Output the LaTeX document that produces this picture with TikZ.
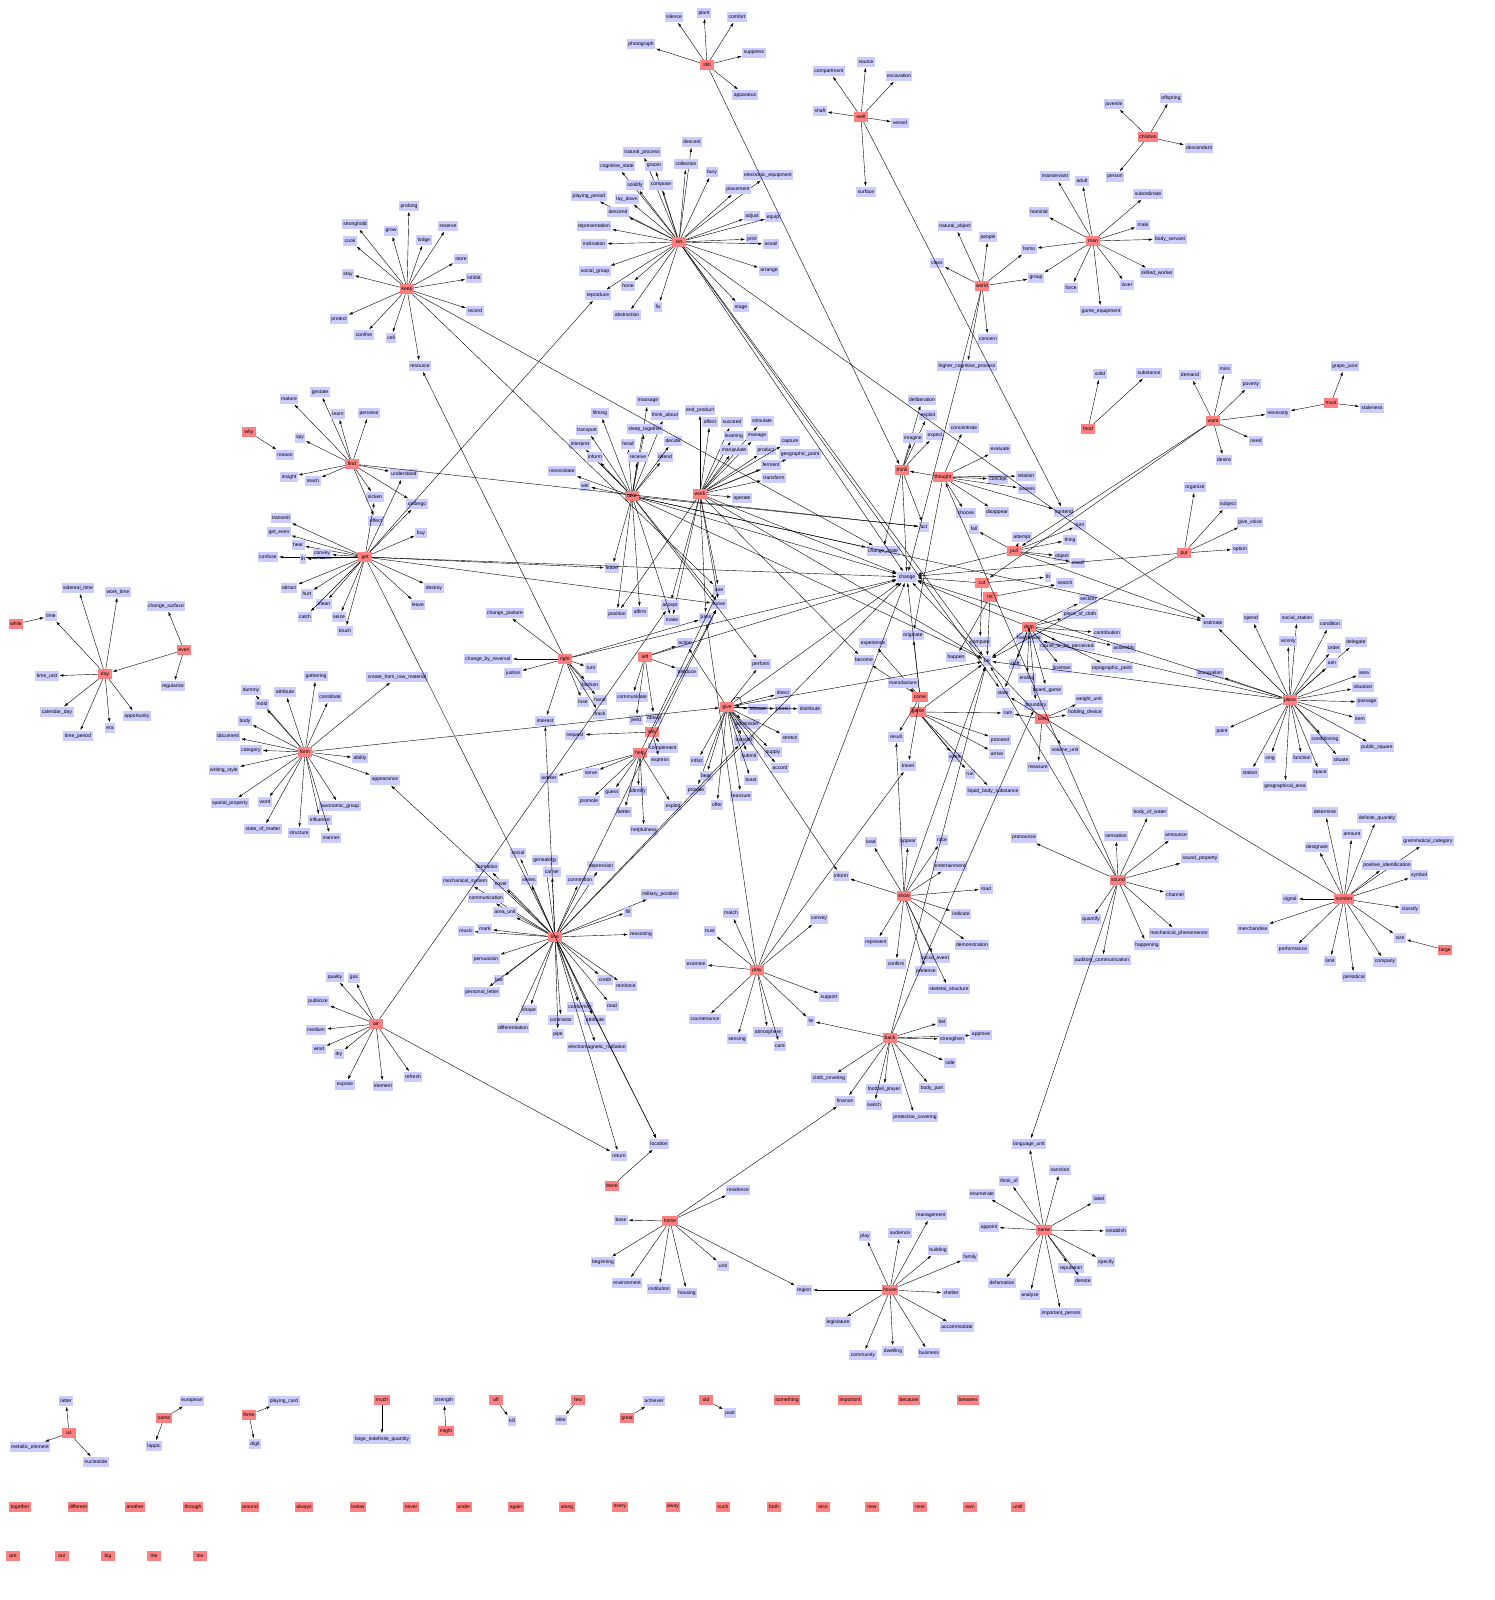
\documentclass[tikz,border=0pt]{standalone}
\usepackage{fontspec}
\setmainfont{Liberation Sans}
\usetikzlibrary{arrows.meta}
\tikzset{
 hubn/.style={fill={rgb,255:red,255;green,128;blue,128},inner sep=1.5pt,minimum height=10pt,minimum width=14pt,font=\fontsize{5}{6}\selectfont},
 leafn/.style={fill={rgb,255:red,204;green,204;blue,255},inner sep=1.5pt,minimum height=10pt,font=\fontsize{5}{6}\selectfont},
 arr/.style={-{Latex[length=4pt,width=2.6pt]},line width=0.4pt,shorten >=0.5pt}
}
\newcommand\hub[4]{\node[hubn] (#1) at (#2,#3) {#4};}
\newcommand\lv[2]{\foreach \n/\x/\y in {#2}{\node[leafn] (#1-\n) at (\x,\y) {\expandafter\detokenize\expandafter{\n}}; \draw[arr] (#1) -- (#1-\n);}}
\begin{document}
\begin{tikzpicture}[x=1pt,y=-1pt]
\useasboundingbox[fill=white] (0,0) rectangle (1494,1600);
% hubs
\hub{still}{707}{65}{still}
\hub{well}{861}{117}{well}
\hub{children}{1148}{137}{children}
\hub{man}{1093}{241}{man}
\hub{world}{982}{286}{world}
\hub{set}{679}{242}{set}
\hub{keep}{407}{289}{keep}
\hub{food}{1088}{429}{food}
\hub{want}{1213}{421}{want}
\hub{must}{1331}{403}{must}
\hub{why}{249}{432}{why}
\hub{find}{352}{464}{find}
\hub{get}{365}{557}{get}
\hub{day}{105}{674}{day}
\hub{while}{16}{624}{while}
\hub{even}{184}{650}{even}
\hub{take}{632}{496}{take}
\hub{work}{700}{494}{work}
\hub{think}{902}{470}{think}
\hub{thought}{943}{477}{thought}
\hub{pull}{1014}{551}{pull}
\hub{cut}{982}{583}{cut}
\hub{hit}{990}{597}{hit}
\hub{drop}{1029}{627}{drop}
\hub{come}{920}{697}{come}
\hub{game}{918}{712}{game}
\hub{last}{1042}{719}{last}
\hub{put}{1184}{553}{put}
\hub{place}{1290}{700}{place}
\hub{form}{305}{752}{form}
\hub{right}{565}{659}{right}
\hub{left}{645}{657}{left}
\hub{give}{727}{707}{give}
\hub{ask}{652}{732}{ask}
\hub{help}{640}{753}{help}
\hub{line}{555}{937}{line}
\hub{air}{376}{1024}{air}
\hub{play}{757}{970}{play}
\hub{show}{904}{896}{show}
\hub{back}{890}{1038}{back}
\hub{sound}{1118}{880}{sound}
\hub{number}{1344}{899}{number}
\hub{large}{1445}{950}{large}
\hub{home}{670}{1221}{home}
\hub{house}{890}{1290}{house}
\hub{name}{1044}{1230}{name}
\hub{there}{612}{1186}{there}
% leaves
\lv{still}{silence/674/17,plant/704/13,comfort/737/17,photograph/641/44,suppress/754/53,apparatus/745/95}
\lv{well}{source/866/62,compartment/829/71,excavation/899/76,shaft/820/111,vessel/900/123,surface/866/192}
\lv{children}{juvenile/1114/104,offspring/1171/98,descendant/1199/148,person/1115/177}
\lv{man}{manservant/1055/176,adult/1082/181,subordinate/1148/194,hominid/1039/212,male/1143/225,body_servant/1170/239,homo/1029/249,group/1036/278,skilled_worker/1157/273,force/1071/288,lover/1127/285,game_equipment/1101/311}
\lv{world}{natural_object/955/226,people/988/237,class/937/263,concern/988/339,higher_cognitive_process/967/366}
\draw[arr] (world) -- (man-homo); \draw[arr] (world) -- (man-group);
\lv{set}{descent/692/142,natural_process/642/152,collection/686/164,bury/712/172,cognitive_state/617/166,groom/654/166,electronic_equipment/768/175,solidify/635/185,compose/661/185,placement/738/189,playing_period/589/196,lay_down/627/199,descend/618/212,adjust/752/216,equip/773/217,representation/594/226,inclination/594/244,print/752/239,assail/771/244,social_group/595/271,arrange/769/271,hone/628/286,reproduce/598/295,fix/658/307,abstraction/627/315,stage/741/307}
\lv{keep}{prolong/409/206,stronghold/355/224,grow/391/231,lodge/424/240,reserve/448/226,cook/350/241,store/461/259,stay/348/274,inhibit/474/278,record/475/311,protect/339/319,confine/364/335,cell/391/338,resource/420/366}
\lv{food}{solid/1100/374,substance/1149/373}
\lv{want}{demand/1190/375,miss/1225/369,poverty/1251/384,necessity/1278/413,need/1256/441,desire/1224/460}
\lv{must}{grape_juice/1345/366,staleness/1372/408}
\draw[arr] (must) -- (want-necessity);
\lv{why}{reason/285/455}
\lv{find}{gestate/320/392,mature/289/399,learn/338/414,perceive/369/413,spy/300/438,insight/289/477,reach/313/481,understand/404/474,sicken/375/497,effect/376/521,undergo/417/504}
\lv{get}{transmit/281/518,get_even/279/532,hear/298/545,convey/322/554,confuse/268/557,fit/303/559,attract/289/588,hurt/307/594,mean/324/604,catch/305/617,seize/339/617,touch/345/631,buy/421/533,destroy/434/588,leave/418/605}
\draw[arr] (get) -- (find-understand); \draw[arr] (get) -- (find-undergo); \draw[arr] (get) -- (find-sicken);
\lv{day}{sidereal_time/78/588,work_time/118/592,time/51/616,time_unit/47/676,calendar_day/57/712,time_period/78/736,era/110/728,opportunity/137/716}
\draw[arr] (while) -- (day-time);
\lv{even}{change_surface/166/606,regularize/173/686}
\draw[arr] (even) -- (day);
\lv{take}{massage/648/401,filming/600/413,transport/587/430,think_about/665/415,sleep_together/645/429,interpret/580/444,head/628/444,receive/638/457,inform/595/457,attend/665/457,decide/673/441,necessitate/562/471,win/585/486,leave/612/568,position/617/614,affirm/640/612}
\lv{work}{end_product/700/410,affect/710/422,succeed/732/422,stimulate/762/421,learning/734/436,manage/757/436,manipulate/734/450,product/766/450,capture/790/441,geographic_point/800/454,ferment/771/465,transform/774/478,operate/742/498,use/719/590,move/719/604,make/672/620,pass/706/618,accept/670/605}
\lv{think}{deliberation/922/400,exploit/928/415,imagine/913/438,expect/935/435,act/924/527,change_state/883/551,change/907/577}
\lv{thought}{concentrate/964/428,evaluate/1000/449,choose/966/513,disappear/997/512,concept/998/479,relation/1026/476,assess/1027/489,contend/1064/512}
\draw[arr] (thought) -- (think);
\lv{pull}{fall/974/529,attempt/1022/537,thing/1070/540,turn/1080/525,object/1062/556,crawl/1078/563}
\lv{cut}{fit/1048/577,compute/980/642}
\lv{hit}{search/1065/583,be/987/661,happen/956/657}
\lv{drop}{section/1088/599,piece_of_cloth/1080/614,contribution/1107/633,harmonize/1029/638,cause_to_be_perceived/1067/646,assembly/1124/648,shift/1015/664,ending/1027/678,board_game/1047/690,state/1003/693,boundary/1036/705,lineman/1062/668,topographic_point/1112/668}
\lv{come}{experience/873/643,originate/913/635,become/864/660,manufacture/903/683,result/896/737,travel/908/766}
\lv{game}{ram/1008/713,proceed/1000/740,arrive/997/754,exert/955/757,run/970/774,liquid_body_substance/993/791}
\lv{last}{measure/1038/767,volume_unit/1065/750,weight_unit/1089/699,holding_device/1085/712}
\draw[arr] (last) -- (game-ram);
\lv{put}{organize/1195/487,subject/1228/504,give_voice/1250/522,option/1240/549}
\lv{place}{social_station/1297/618,condition/1330/624,vicinity/1288/641,delegate/1356/642,order/1334/648,aim/1332/663,area/1364/673,situation/1363/687,passage/1367/702,item/1360/719,public_square/1377/747,conditioning/1325/739,situate/1341/760,point/1222/731,sing/1270/758,function/1302/758,space/1320/773,station/1250/773,geographical_area/1285/786,occupation/1210/673,spend/1251/618,estimate/1213/623}
\lv{form}{gathering/316/676,attribute/285/692,constitute/330/697,dummy/251/690,mold/262/704,body/245/721,document/228/736,category/251/750,ability/360/758,writing_style/224/770,appearance/385/780,spatial_property/230/803,word/265/802,taxonomic_group/340/806,influence/320/820,state_of_matter/263/829,structure/299/833,manner/331/838,create_from_raw_material/397/677}
\lv{right}{change_posture/505/613,change_by_reversal/488/659,justice/513/673,interest/545/721,turn/591/668,fashion/590/685,lose/583/702,hand/600/700,track/600/714}
\lv{left}{action/685/643,produce/687/672,communicate/632/697,yield/636/720,obtain/654/718}
\lv{give}{perform/761/664,direct/783/693,release/758/709,permit/783/709,distribute/810/709,administer/747/724,transfer/744/740,submit/749/756,supply/773/752,stretch/790/738,accord/780/768,toast/751/780,provide/696/790,offer/717/805,inflict/697/761,bear/706/776,reassure/741/796}
\lv{ask}{request/575/735,complement/663/748,express/660/761}
\lv{help}{worker/549/778,serve/591/773,promote/589/801,guess/612/793,identify/638/791,exploit/673/806,better/624/812,helpfulness/644/830}
\lv{line}{social/518/853,genealogy/545/860,carrier/552/872,depression/601/866,formation/487/867,series/529/880,connection/580/880,mechanical_system/465/881,cover/501/884,communication/486/898,military_position/660/894,area_unit/505/912,fill/628/912,music/466/931,mark/485/929,reasoning/641/934,persuasion/486/959,law/499/980,personal_letter/482/992,credit/605/980,reinforce/626/986,road/612/1006,shape/529/1010,conformity/580/1007,attribute/595/1020,contractor/561/1020,differentiation/513/1028,pipe/558/1034,electromagnetic_radiation/597/1047,return/619/1156,location/659/1144}
\draw[arr] (there) -- (line-location);
\lv{air}{quality/335/977,gas/354/978,publicize/318/1001,medium/316/1030,wind/319/1049,dry/339/1054,expose/345/1085,element/383/1086,refresh/413/1077}
\lv{play}{match/731/913,trust/710/931,examine/696/964,countenance/705/1019,sensing/737/1039,atmosphere/768/1032,care/780/1046,support/829/997,lie/811/1021,convey/819/919}
\lv{show}{appear/908/842,race/942/840,entertainment/950/866,road/986/889,indicate/961/914,inform/841/876,demonstration/972/945,represent/876/942,social_event/935/958,pretense/926/971,confirm/896/964,skeletal_structure/949/989,load/871/842}
\lv{back}{bet/942/1022,approve/981/1035,strengthen/952/1039,side/950/1063,cloth_covering/829/1078,finance/845/1101,football_player/884/1089,body_part/932/1088,switch/874/1105,protective_covering/915/1117}
\draw[arr] (back) -- (play-lie);
\lv{sound}{sensation/1116/836,body_of_water/1150/812,announce/1176/835,sound_property/1200/858,channel/1175/895,quantify/1091/919,mechanical_phenomenon/1179/933,happening/1147/945,auditory_communication/1102/960,pronounce/1024/838,language_unit/1029/1144}
\lv{number}{determine/1325/812,definite_quantity/1377/818,amount/1352/834,grammatical_category/1428/841,designate/1317/847,positive_identification/1387/865,symbol/1419/875,signal/1290/899,classify/1410/909,merchandise/1253/929,performance/1293/949,size/1400/938,limit/1330/961,company/1385/962,periodical/1354/977}
\draw[arr] (large) -- (number-size);
\lv{home}{residence/738/1190,base/621/1220,beginning/603/1262,environment/627/1283,institution/659/1289,housing/687/1293,unit/723/1266}
\lv{house}{play/865/1236,audience/900/1233,management/931/1215,building/938/1250,family/970/1257,shelter/951/1293,accommodate/957/1327,business/929/1353,dwelling/893/1351,community/863/1355,legislature/838/1322,region/804/1290}
\lv{name}{think_of/1009/1181,sanction/1060/1170,enumerate/982/1194,label/1099/1199,establish/1116/1231,appoint/989/1227,specify/1106/1262,reputation/1071/1268,denote/1083/1281,defamation/1002/1283,analyze/1030/1295,important_person/1061/1313}
\draw[arr] (name) -- (sound-language_unit);
% cross connectors
\foreach \a/\b in {take/think-change,take/work-move,take/work-make,take/hit-be,take/think-act,take/think-change_state,work/think-change,work/hit-be,work/come-become,work/take-position,get/think-change,get/work-move,get/take-leave,get/set-reproduce,get/line-location,find/think-act,keep/think-change_state,keep/work-use,set/think-change,set/drop-state,set/hit-be,still/think,well/thought-contend,world/think-change,put/hit-be,put/think-change,place/think-change,place/hit-be,place/drop-harmonize,number/drop-state,sound/thought,sound/hit-be,line/work-move,line/think-change,line/form-appearance,line/give-transfer,play/think-change,play/work-pass,show/hit-be,show/come-result,back/hit-be,back/drop-boundary,air/work-accept,air/line-return,home/back-finance,home/house-region,right/think-change,left/think-change,give/hit-be,give/think-change,give/left-action,right/work-pass,help/work-use,ask/work-move,come/think-change,game/hit-be,last/think-change,pull/think-change,cut/think-change,drop/think-change,drop/hit-be,want/pull,want/cut,right/keep-resource,give/show-inform,play/come-travel,line/right-interest,form/give,thought/come-originate,take/give-perform,take/place-estimate,set/place-estimate,pull/place-estimate}
{\draw[arr] (\a) -- (\b);}
\draw[arr] (give) .. controls (740,690) and (745,705) .. (give);
% bottom
\hub{us}{69}{1433}{us}
\lv{us}{latter/66/1401,metallic_element/30/1447,nucleotide/96/1462}
\hub{same}{164}{1418}{same}
\lv{same}{european/192/1401,lappic/154/1446}
\hub{three}{249}{1415}{three}
\lv{three}{playing_card/284/1401,digit/255/1444}
\hub{much}{382}{1400}{much}
\lv{much}{large_indefinite_quantity/382/1439}
\hub{might}{446}{1431}{might}
\lv{might}{strength/444/1400}
\hub{off}{496}{1400}{off}
\lv{off}{kill/512/1421}
\hub{few}{578}{1400}{few}
\lv{few}{elite/561/1420}
\hub{great}{627}{1418}{great}
\lv{great}{achiever/654/1401}
\hub{old}{706}{1400}{old}
\lv{old}{past/730/1413}
\foreach \w/\x/\y in {something/787/1400,important/850/1400,because/909/1400,between/968/1400,together/20/1507,different/78/1507,another/135/1507,through/193/1507,around/250/1507,always/304/1507,below/358/1507,never/411/1507,under/464/1507,again/516/1507,along/567/1507,every/620/1507,away/673/1507,such/723/1507,both/774/1507,also/823/1507,new/872/1507,next/920/1507,own/970/1507,until/1018/1507,are/13/1556,our/62/1556,big/108/1556,me/154/1556,too/200/1556}
{\node[hubn] (\w) at (\x,\y) {\w};}
\end{tikzpicture}
\end{document}
